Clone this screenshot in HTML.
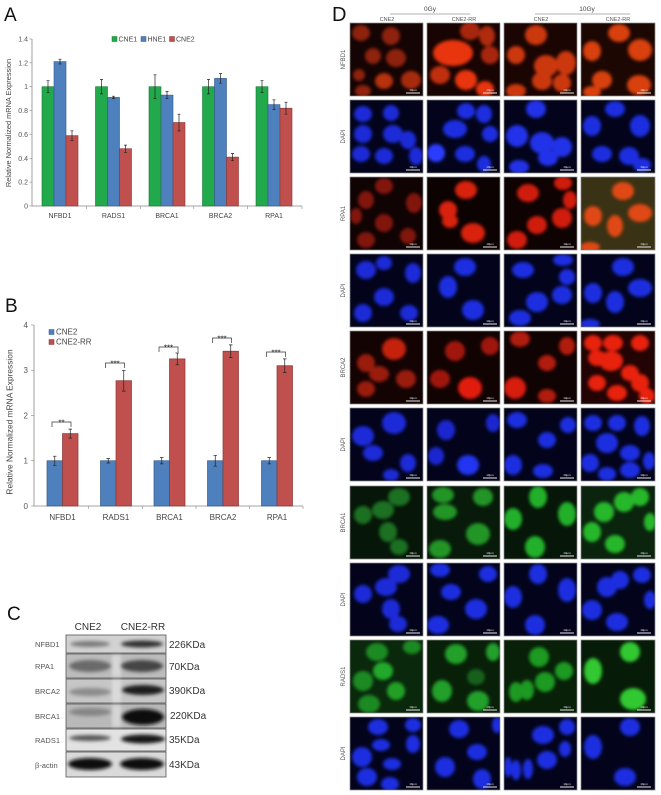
<!DOCTYPE html>
<html><head><meta charset="utf-8"><style>
html,body{margin:0;padding:0;background:#fff;}
svg{display:block;}
text{font-family:"Liberation Sans",sans-serif;}
</style></head><body>
<svg width="661" height="795" viewBox="0 0 661 795" xmlns="http://www.w3.org/2000/svg">
<defs>
<filter id="bl" x="-30%" y="-30%" width="160%" height="160%"><feGaussianBlur stdDeviation="1.6"/></filter>
<filter id="bb" x="-30%" y="-100%" width="160%" height="300%"><feGaussianBlur stdDeviation="1.8"/></filter>
</defs>
<rect width="661" height="795" fill="#fff"/>

<!-- ================= Panel A ================= -->
<text x="4" y="21" font-size="19" fill="#111">A</text>
<g font-size="7" fill="#555" text-anchor="end">
<text x="28" y="208.5">0</text><text x="28" y="184.6">0.2</text><text x="28" y="160.8">0.4</text><text x="28" y="136.9">0.6</text><text x="28" y="113.1">0.8</text><text x="28" y="89.2">1</text><text x="28" y="65.3">1.2</text><text x="28" y="41.5">1.4</text>
</g>
<text transform="translate(11,123) rotate(-90)" font-size="7.4" fill="#444" text-anchor="middle">Relative Normalized mRNA Expression</text>
<line x1="32" y1="39" x2="32" y2="206" stroke="#888" stroke-width="0.8"/>
<line x1="32" y1="206" x2="302" y2="206" stroke="#888" stroke-width="0.8"/>
<g stroke="#888" stroke-width="0.6"><line x1="29.5" y1="206" x2="32" y2="206"/><line x1="29.5" y1="182.1" x2="32" y2="182.1"/><line x1="29.5" y1="158.3" x2="32" y2="158.3"/><line x1="29.5" y1="134.4" x2="32" y2="134.4"/><line x1="29.5" y1="110.6" x2="32" y2="110.6"/><line x1="29.5" y1="86.7" x2="32" y2="86.7"/><line x1="29.5" y1="62.8" x2="32" y2="62.8"/><line x1="29.5" y1="39" x2="32" y2="39"/>
<line x1="86.7" y1="206" x2="86.7" y2="209"/><line x1="140.3" y1="206" x2="140.3" y2="209"/><line x1="193.8" y1="206" x2="193.8" y2="209"/><line x1="247.3" y1="206" x2="247.3" y2="209"/><line x1="302" y1="206" x2="302" y2="209"/></g>
<g stroke-width="0.6">
<g fill="#22a94b" stroke="#167a35">
<rect x="42" y="86.7" width="12" height="119.3"/><rect x="95.5" y="86.7" width="12" height="119.3"/><rect x="149" y="86.7" width="12" height="119.3"/><rect x="202.5" y="86.7" width="12" height="119.3"/><rect x="256" y="86.7" width="12" height="119.3"/></g>
<g fill="#4f80be" stroke="#35598a">
<rect x="54" y="61.6" width="12" height="144.4"/><rect x="107.5" y="97.4" width="12" height="108.6"/><rect x="161" y="95.1" width="12" height="110.9"/><rect x="214.5" y="78.4" width="12" height="127.6"/><rect x="268" y="104.6" width="12" height="101.4"/></g>
<g fill="#c0504d" stroke="#8c3533">
<rect x="66" y="135.6" width="12" height="70.4"/><rect x="119.5" y="148.7" width="12" height="57.3"/><rect x="173" y="122.5" width="12" height="83.5"/><rect x="226.5" y="157.1" width="12" height="48.9"/><rect x="280" y="108.2" width="12" height="97.8"/></g>
</g>
<g stroke="#222" stroke-width="0.7">
<path d="M48 80.7V92.7M46.5 80.7H49.5M46.5 92.7H49.5"/><path d="M60 59.2V64M58.5 59.2H61.5M58.5 64H61.5"/><path d="M72 130.8V140.4M70.5 130.8H73.5M70.5 140.4H73.5"/>
<path d="M101.5 79.5V93.9M100 79.5H103M100 93.9H103"/><path d="M113.5 96.2V98.6M112 96.2H115M112 98.6H115"/><path d="M125.5 145.1V152.3M124 145.1H127M124 152.3H127"/>
<path d="M155 74.8V98.6M153.5 74.8H156.5M153.5 98.6H156.5"/><path d="M167 91.5V98.7M165.5 91.5H168.5M165.5 98.7H168.5"/><path d="M179 114.2V130.9M177.5 114.2H180.5M177.5 130.9H180.5"/>
<path d="M208.5 79.5V93.9M207 79.5H210M207 93.9H210"/><path d="M220.5 73.6V83.2M219 73.6H222M219 83.2H222"/><path d="M232.5 153.5V160.7M231 153.5H234M231 160.7H234"/>
<path d="M262 80.7V92.7M260.5 80.7H263.5M260.5 92.7H263.5"/><path d="M274 99.8V109.4M272.5 99.8H275.5M272.5 109.4H275.5"/><path d="M286 102.2V114.2M284.5 102.2H287.5M284.5 114.2H287.5"/>
</g>
<g font-size="7" fill="#444" text-anchor="middle">
<text x="60" y="218">NFBD1</text><text x="113.5" y="218">RADS1</text><text x="167" y="218">BRCA1</text><text x="220.5" y="218">BRCA2</text><text x="274" y="218">RPA1</text></g>
<rect x="112" y="36.5" width="5" height="5" fill="#22a94b" stroke="#167a35" stroke-width="0.5"/><text x="118.5" y="41.5" font-size="7" fill="#444">CNE1</text>
<rect x="141" y="36.5" width="5" height="5" fill="#4f80be" stroke="#35598a" stroke-width="0.5"/><text x="147.5" y="41.5" font-size="7" fill="#444">HNE1</text>
<rect x="169.5" y="36.5" width="5" height="5" fill="#c0504d" stroke="#8c3533" stroke-width="0.5"/><text x="176" y="41.5" font-size="7" fill="#444">CNE2</text>

<!-- ================= Panel B ================= -->
<text x="5" y="312" font-size="19" fill="#111">B</text>
<g font-size="8" fill="#555" text-anchor="end">
<text x="28" y="509">0</text><text x="28" y="463.7">1</text><text x="28" y="418.5">2</text><text x="28" y="373.2">3</text><text x="28" y="328">4</text></g>
<text transform="translate(12.5,422) rotate(-90)" font-size="8.4" fill="#444" text-anchor="middle">Relative Normalized mRNA Expression</text>
<line x1="34" y1="325" x2="34" y2="506" stroke="#888" stroke-width="0.8"/>
<line x1="34" y1="506" x2="303" y2="506" stroke="#888" stroke-width="0.8"/>
<g stroke="#888" stroke-width="0.6"><line x1="31" y1="506" x2="34" y2="506"/><line x1="31" y1="460.75" x2="34" y2="460.75"/><line x1="31" y1="415.5" x2="34" y2="415.5"/><line x1="31" y1="370.25" x2="34" y2="370.25"/><line x1="31" y1="325" x2="34" y2="325"/>
<line x1="88.5" y1="506" x2="88.5" y2="509"/><line x1="142.5" y1="506" x2="142.5" y2="509"/><line x1="196" y1="506" x2="196" y2="509"/><line x1="249.5" y1="506" x2="249.5" y2="509"/><line x1="303" y1="506" x2="303" y2="509"/></g>
<g stroke-width="0.7">
<g fill="#4f80be" stroke="#35598a">
<rect x="47" y="460.75" width="15.5" height="45.25"/><rect x="100.5" y="460.75" width="15.5" height="45.25"/><rect x="154" y="460.75" width="15.5" height="45.25"/><rect x="207.5" y="460.75" width="15.5" height="45.25"/><rect x="261.5" y="460.75" width="15.5" height="45.25"/></g>
<g fill="#c0504d" stroke="#8c3533">
<rect x="62.5" y="433.6" width="15.5" height="72.4"/><rect x="116" y="380.7" width="15.5" height="125.3"/><rect x="169.5" y="358.9" width="15.5" height="147.1"/><rect x="223" y="351.2" width="15.5" height="154.8"/><rect x="277" y="365.7" width="15.5" height="140.3"/></g>
</g>
<g stroke="#222" stroke-width="0.7">
<path d="M54.75 456.2V465.3M53 456.2H56.5M53 465.3H56.5"/><path d="M108.25 458.5V463M106.5 458.5H110M106.5 463H110"/><path d="M161.75 457.6V463.9M160 457.6H163.5M160 463.9H163.5"/><path d="M215.25 455.3V466.2M213.5 455.3H217M213.5 466.2H217"/><path d="M269.25 457.6V463.9M267.5 457.6H271M267.5 463.9H271"/>
<path d="M70.25 429.1V438.1M68.5 429.1H72M68.5 438.1H72"/><path d="M123.75 370.3V391.1M122 370.3H125.5M122 391.1H125.5"/><path d="M177.25 353V364.8M175.5 353H179M175.5 364.8H179"/><path d="M230.75 344.9V357.5M229 344.9H232.5M229 357.5H232.5"/><path d="M284.75 358.9V372.5M283 358.9H286.5M283 372.5H286.5"/>
</g>
<g stroke="#333" stroke-width="0.7" fill="none">
<path d="M52 427V422H71V427"/><path d="M105.5 368V363H124.5V368"/><path d="M159 352V347H178V352"/><path d="M212.5 343V338H231.5V343"/><path d="M266.5 357V352H285.5V357"/></g>
<g font-size="8" fill="#222" text-anchor="middle">
<text x="61.5" y="425.5">**</text><text x="115" y="366.5">***</text><text x="168.5" y="350.5">***</text><text x="222" y="341.5">***</text><text x="276" y="355.5">***</text></g>
<g font-size="8" fill="#444" text-anchor="middle">
<text x="62.5" y="520">NFBD1</text><text x="116" y="520">RADS1</text><text x="169.5" y="520">BRCA1</text><text x="223" y="520">BRCA2</text><text x="277" y="520">RPA1</text></g>
<rect x="49" y="329.5" width="5" height="5" fill="#4f80be" stroke="#35598a" stroke-width="0.5"/><text x="56" y="334.5" font-size="8" fill="#444">CNE2</text>
<rect x="49" y="339.5" width="5" height="5" fill="#c0504d" stroke="#8c3533" stroke-width="0.5"/><text x="56" y="344.5" font-size="8" fill="#444">CNE2-RR</text>

<!-- ================= Panel C ================= -->
<text x="7" y="620" font-size="19" fill="#111">C</text>
<text x="88" y="630" font-size="10" fill="#333" text-anchor="middle">CNE2</text>
<text x="143" y="630" font-size="10" fill="#333" text-anchor="middle">CNE2-RR</text>
<g stroke="#555" stroke-width="0.8">
<rect x="66" y="635" width="100" height="18" fill="#d2d2d2"/>
<rect x="66" y="654" width="100" height="24" fill="#bcbcbc"/>
<rect x="66" y="679" width="100" height="24" fill="#c6c6c6"/>
<rect x="66" y="704" width="100" height="24" fill="#b9b9b9"/>
<rect x="66" y="729" width="100" height="22" fill="#e2e2e2"/>
<rect x="66" y="752" width="100" height="25" fill="#dadada"/>
</g>
<g fill="#e8e8e8" opacity="0.6" filter="url(#bl)">
<rect x="112" y="655" width="9" height="22"/><rect x="112" y="680" width="9" height="22"/><rect x="112" y="705" width="9" height="22"/></g>
<g filter="url(#bb)">
<ellipse cx="90" cy="644" rx="20" ry="3" fill="#7a7a7a"/><ellipse cx="142" cy="644" rx="21" ry="3.5" fill="#303030"/>
<ellipse cx="90" cy="666" rx="21" ry="6" fill="#6a6a6a"/><ellipse cx="142" cy="666" rx="21" ry="6" fill="#454545"/>
<ellipse cx="90" cy="692" rx="21" ry="4" fill="#8c8c8c"/><ellipse cx="143" cy="690" rx="21" ry="5" fill="#1a1a1a"/>
<ellipse cx="90" cy="712" rx="21" ry="4" fill="#858585"/><ellipse cx="143" cy="717" rx="21" ry="8" fill="#111"/>
<ellipse cx="90" cy="738" rx="21" ry="3" fill="#555"/><ellipse cx="143" cy="739" rx="22" ry="4.5" fill="#151515"/>
<ellipse cx="90" cy="764" rx="22" ry="6" fill="#0a0a0a"/><ellipse cx="142" cy="764" rx="22" ry="6" fill="#0a0a0a"/>
</g>
<g font-size="7.5" fill="#555">
<text x="35" y="647">NFBD1</text><text x="35" y="669">RPA1</text><text x="35" y="694">BRCA2</text><text x="35" y="719">BRCA1</text><text x="35" y="743">RADS1</text><text x="35" y="768">β-actin</text></g>
<g font-size="10" fill="#333">
<text x="169" y="648">226KDa</text><text x="169" y="670">70KDa</text><text x="169" y="694">390KDa</text><text x="170" y="719">220KDa</text><text x="169" y="743">35KDa</text><text x="169" y="768">43KDa</text></g>

<!-- ================= Panel D ================= -->
<text x="332" y="21" font-size="20" fill="#111">D</text>
<text x="430" y="11" font-size="6.5" fill="#444" text-anchor="middle">0Gy</text>
<line x1="390" y1="14" x2="470" y2="14" stroke="#999" stroke-width="0.7"/>
<text x="587" y="11" font-size="6.5" fill="#444" text-anchor="middle">10Gy</text>
<line x1="535" y1="14" x2="630" y2="14" stroke="#999" stroke-width="0.7"/>
<g font-size="5.5" fill="#555" text-anchor="middle">
<text x="387" y="21">CNE2</text><text x="464" y="21">CNE2-RR</text><text x="541" y="21">CNE2</text><text x="618" y="21">CNE2-RR</text></g>
<g font-size="6" fill="#555" text-anchor="middle">
<text transform="translate(345,59.5) rotate(-90)">NFBD1</text>
<text transform="translate(345,136.5) rotate(-90)">DAPI</text>
<text transform="translate(345,213.5) rotate(-90)">RPA1</text>
<text transform="translate(345,290.5) rotate(-90)">DAPI</text>
<text transform="translate(345,367.5) rotate(-90)">BRCA2</text>
<text transform="translate(345,444.5) rotate(-90)">DAPI</text>
<text transform="translate(345,522.5) rotate(-90)">BRCA1</text>
<text transform="translate(345,599.5) rotate(-90)">DAPI</text>
<text transform="translate(345,676.5) rotate(-90)">RADS1</text>
<text transform="translate(345,753.5) rotate(-90)">DAPI</text>
</g>

<!-- Row 1 NFBD1 -->
<svg x="350" y="23" width="73" height="73"><rect width="73" height="73" fill="#140404"/><g filter="url(#bl)" fill="#8e2410"><ellipse cx="11" cy="10" rx="9" ry="8"/><ellipse cx="41" cy="13" rx="9" ry="9"/><ellipse cx="23" cy="33" rx="8" ry="8"/><ellipse cx="46" cy="35" rx="10" ry="9"/><ellipse cx="9" cy="52" rx="6" ry="6"/><ellipse cx="34" cy="58" rx="9" ry="8" fill="#b8300f"/><ellipse cx="61" cy="57" rx="10" ry="9" fill="#a82c10"/><ellipse cx="13" cy="68" rx="8" ry="6"/></g></svg>
<svg x="427" y="23" width="73" height="73"><rect width="73" height="73" fill="#180403"/><g filter="url(#bl)" fill="#e8340c"><ellipse cx="26" cy="30" rx="20" ry="13"/><ellipse cx="43" cy="8" rx="10" ry="9" fill="#a82808"/><ellipse cx="60" cy="13" rx="8" ry="10" fill="#b02a08"/><ellipse cx="63" cy="32" rx="9" ry="9" fill="#a82808"/><ellipse cx="13" cy="52" rx="10" ry="9" fill="#c02e0a"/><ellipse cx="39" cy="57" rx="11" ry="10"/><ellipse cx="58" cy="66" rx="9" ry="8"/></g></svg>
<svg x="504" y="23" width="73" height="73"><rect width="73" height="73" fill="#1a0503"/><g filter="url(#bl)" fill="#cc380e"><ellipse cx="32" cy="12" rx="11" ry="10"/><ellipse cx="12" cy="32" rx="9" ry="9"/><ellipse cx="42" cy="43" rx="12" ry="11"/><ellipse cx="62" cy="40" rx="10" ry="12"/><ellipse cx="38" cy="58" rx="10" ry="9"/><ellipse cx="58" cy="60" rx="9" ry="9"/><ellipse cx="12" cy="68" rx="10" ry="7"/></g></svg>
<svg x="581" y="23" width="74" height="73"><rect width="74" height="73" fill="#1c0703"/><g filter="url(#bl)" fill="#d8400e"><ellipse cx="38" cy="10" rx="11" ry="9"/><ellipse cx="11" cy="28" rx="9" ry="10"/><ellipse cx="59" cy="27" rx="12" ry="11"/><ellipse cx="21" cy="57" rx="10" ry="9"/><ellipse cx="58" cy="62" rx="12" ry="10"/><ellipse cx="11" cy="69" rx="9" ry="6"/></g></svg>

<!-- Row 2 DAPI -->
<svg x="350" y="100" width="73" height="73"><rect width="73" height="73" fill="#03041c"/><g filter="url(#bl)" fill="#1c2ad8"><ellipse cx="13" cy="14" rx="9" ry="8"/><ellipse cx="41" cy="13" rx="8" ry="8"/><ellipse cx="13" cy="34" rx="9" ry="9"/><ellipse cx="43" cy="34" rx="10" ry="9"/><ellipse cx="58" cy="40" rx="8" ry="9"/><ellipse cx="11" cy="54" rx="9" ry="8"/><ellipse cx="34" cy="56" rx="9" ry="8"/><ellipse cx="66" cy="56" rx="7" ry="9"/></g></svg>
<svg x="427" y="100" width="73" height="73"><rect width="73" height="73" fill="#03041c"/><g filter="url(#bl)" fill="#1e2ee0"><ellipse cx="39" cy="11" rx="9" ry="8"/><ellipse cx="57" cy="14" rx="8" ry="9"/><ellipse cx="28" cy="29" rx="12" ry="9"/><ellipse cx="63" cy="34" rx="8" ry="8"/><ellipse cx="9" cy="53" rx="9" ry="9" fill="#2a3cff"/><ellipse cx="38" cy="54" rx="10" ry="8"/><ellipse cx="57" cy="64" rx="7" ry="8"/></g></svg>
<svg x="504" y="100" width="73" height="73"><rect width="73" height="73" fill="#03041c"/><g filter="url(#bl)" fill="#2030e8"><ellipse cx="32" cy="9" rx="10" ry="9"/><ellipse cx="13" cy="36" rx="11" ry="11"/><ellipse cx="38" cy="43" rx="12" ry="11"/><ellipse cx="58" cy="47" rx="10" ry="10"/><ellipse cx="44" cy="58" rx="10" ry="8"/><ellipse cx="15" cy="67" rx="10" ry="7"/></g></svg>
<svg x="581" y="100" width="74" height="73"><rect width="74" height="73" fill="#03041c"/><g filter="url(#bl)" fill="#1e2ee0"><ellipse cx="34" cy="9" rx="10" ry="8"/><ellipse cx="11" cy="26" rx="9" ry="10"/><ellipse cx="59" cy="26" rx="10" ry="11"/><ellipse cx="21" cy="54" rx="10" ry="8"/><ellipse cx="48" cy="56" rx="10" ry="9"/><ellipse cx="61" cy="65" rx="9" ry="7"/></g></svg>

<!-- Row 3 RPA1 -->
<svg x="350" y="177" width="73" height="73"><rect width="73" height="73" fill="#100303"/><g filter="url(#bl)" fill="#821610"><ellipse cx="34" cy="9" rx="9" ry="8"/><ellipse cx="16" cy="23" rx="8" ry="9"/><ellipse cx="64" cy="26" rx="8" ry="10"/><ellipse cx="6" cy="39" rx="6" ry="8"/><ellipse cx="34" cy="46" rx="9" ry="9"/><ellipse cx="16" cy="63" rx="9" ry="8"/><ellipse cx="58" cy="59" rx="8" ry="8"/></g></svg>
<svg x="427" y="177" width="73" height="73"><rect width="73" height="73" fill="#0c0202"/><g filter="url(#bl)" fill="#d8200e"><ellipse cx="39" cy="13" rx="11" ry="9"/><ellipse cx="21" cy="33" rx="9" ry="9"/><ellipse cx="23" cy="44" rx="8" ry="7"/><ellipse cx="46" cy="56" rx="12" ry="10"/></g></svg>
<svg x="504" y="177" width="73" height="73"><rect width="73" height="73" fill="#0e0202"/><g filter="url(#bl)" fill="#d01e0e"><ellipse cx="24" cy="16" rx="11" ry="9"/><ellipse cx="59" cy="6" rx="9" ry="7"/><ellipse cx="66" cy="23" rx="7" ry="9"/><ellipse cx="33" cy="48" rx="10" ry="9"/><ellipse cx="58" cy="41" rx="10" ry="10"/><ellipse cx="13" cy="63" rx="10" ry="9"/></g></svg>
<svg x="581" y="177" width="74" height="73"><rect width="74" height="73" fill="#3a3214"/><g filter="url(#bl)" fill="#e04a18"><ellipse cx="42" cy="14" rx="11" ry="9"/><ellipse cx="12" cy="39" rx="9" ry="10"/><ellipse cx="59" cy="36" rx="12" ry="9"/><ellipse cx="34" cy="49" rx="8" ry="11"/><ellipse cx="9" cy="70" rx="10" ry="5"/></g></svg>

<!-- Row 4 DAPI -->
<svg x="350" y="254" width="73" height="73"><rect width="73" height="73" fill="#03041c"/><g filter="url(#bl)" fill="#1c2ad8"><ellipse cx="16" cy="16" rx="10" ry="9"/><ellipse cx="34" cy="9" rx="8" ry="7"/><ellipse cx="63" cy="19" rx="8" ry="10"/><ellipse cx="34" cy="43" rx="10" ry="9"/><ellipse cx="13" cy="59" rx="9" ry="9"/><ellipse cx="59" cy="59" rx="9" ry="8"/></g></svg>
<svg x="427" y="254" width="73" height="73"><rect width="73" height="73" fill="#03041c"/><g filter="url(#bl)" fill="#1e2ee0"><ellipse cx="38" cy="13" rx="11" ry="9"/><ellipse cx="21" cy="33" rx="9" ry="11"/><ellipse cx="46" cy="56" rx="11" ry="10"/></g></svg>
<svg x="504" y="254" width="73" height="73"><rect width="73" height="73" fill="#03041c"/><g filter="url(#bl)" fill="#1e2ee0"><ellipse cx="19" cy="16" rx="11" ry="8"/><ellipse cx="59" cy="6" rx="10" ry="6"/><ellipse cx="63" cy="23" rx="8" ry="8"/><ellipse cx="58" cy="41" rx="10" ry="9"/><ellipse cx="33" cy="48" rx="11" ry="10"/><ellipse cx="16" cy="64" rx="11" ry="8"/></g></svg>
<svg x="581" y="254" width="74" height="73"><rect width="74" height="73" fill="#03041c"/><g filter="url(#bl)" fill="#1e2ee0"><ellipse cx="42" cy="13" rx="11" ry="9"/><ellipse cx="12" cy="39" rx="9" ry="10"/><ellipse cx="59" cy="34" rx="12" ry="9"/><ellipse cx="34" cy="48" rx="9" ry="11"/><ellipse cx="9" cy="70" rx="10" ry="5"/></g></svg>

<!-- Row 5 BRCA2 -->
<svg x="350" y="331" width="73" height="73"><rect width="73" height="73" fill="#140303"/><g filter="url(#bl)" fill="#9a1a10"><ellipse cx="44" cy="18" rx="12" ry="11" fill="#c42010"/><ellipse cx="16" cy="32" rx="9" ry="9"/><ellipse cx="29" cy="43" rx="10" ry="8"/><ellipse cx="56" cy="48" rx="10" ry="9"/><ellipse cx="16" cy="58" rx="9" ry="8"/></g></svg>
<svg x="427" y="331" width="73" height="73"><rect width="73" height="73" fill="#120303"/><g filter="url(#bl)" fill="#a01810"><ellipse cx="28" cy="20" rx="10" ry="10"/><ellipse cx="63" cy="15" rx="9" ry="9"/><ellipse cx="13" cy="48" rx="10" ry="9"/><ellipse cx="43" cy="57" rx="12" ry="11" fill="#e21c10"/></g></svg>
<svg x="504" y="331" width="73" height="73"><rect width="73" height="73" fill="#100303"/><g filter="url(#bl)" fill="#b01a10"><ellipse cx="16" cy="8" rx="10" ry="8"/><ellipse cx="63" cy="15" rx="8" ry="9"/><ellipse cx="43" cy="32" rx="9" ry="8"/><ellipse cx="11" cy="57" rx="11" ry="11" fill="#d81e10"/><ellipse cx="43" cy="65" rx="9" ry="7"/></g></svg>
<svg x="581" y="331" width="74" height="73"><rect width="74" height="73" fill="#220404"/><g filter="url(#bl)" fill="#e82010"><ellipse cx="12" cy="12" rx="9" ry="8"/><ellipse cx="32" cy="12" rx="10" ry="8"/><ellipse cx="59" cy="12" rx="9" ry="8"/><ellipse cx="16" cy="27" rx="9" ry="8"/><ellipse cx="30" cy="30" rx="12" ry="10"/><ellipse cx="49" cy="42" rx="9" ry="8"/><ellipse cx="16" cy="52" rx="9" ry="8"/><ellipse cx="59" cy="52" rx="9" ry="9"/><ellipse cx="36" cy="62" rx="10" ry="8"/><ellipse cx="66" cy="65" rx="8" ry="8"/></g></svg>

<!-- Row 6 DAPI -->
<svg x="350" y="408" width="73" height="73"><rect width="73" height="73" fill="#03041c"/><g filter="url(#bl)" fill="#1c2ad8"><ellipse cx="44" cy="15" rx="12" ry="11"/><ellipse cx="13" cy="28" rx="11" ry="10"/><ellipse cx="23" cy="45" rx="10" ry="8"/><ellipse cx="58" cy="55" rx="8" ry="9"/><ellipse cx="41" cy="67" rx="8" ry="6"/></g></svg>
<svg x="427" y="408" width="73" height="73"><rect width="73" height="73" fill="#03041c"/><g filter="url(#bl)" fill="#1a28d0"><ellipse cx="19" cy="22" rx="9" ry="10"/><ellipse cx="66" cy="15" rx="7" ry="9"/><ellipse cx="9" cy="48" rx="8" ry="9"/><ellipse cx="41" cy="57" rx="11" ry="10" fill="#2234f0"/></g></svg>
<svg x="504" y="408" width="73" height="73"><rect width="73" height="73" fill="#03041c"/><g filter="url(#bl)" fill="#1e2ee0"><ellipse cx="13" cy="12" rx="10" ry="8"/><ellipse cx="64" cy="17" rx="8" ry="8"/><ellipse cx="43" cy="32" rx="9" ry="8"/><ellipse cx="9" cy="57" rx="9" ry="10"/><ellipse cx="39" cy="63" rx="10" ry="7"/></g></svg>
<svg x="581" y="408" width="74" height="73"><rect width="74" height="73" fill="#03041c"/><g filter="url(#bl)" fill="#1e2ee0"><ellipse cx="12" cy="15" rx="9" ry="8"/><ellipse cx="36" cy="15" rx="9" ry="8"/><ellipse cx="61" cy="18" rx="8" ry="10"/><ellipse cx="26" cy="35" rx="11" ry="10"/><ellipse cx="49" cy="45" rx="10" ry="8"/><ellipse cx="9" cy="55" rx="9" ry="9"/><ellipse cx="68" cy="53" rx="6" ry="9"/><ellipse cx="26" cy="66" rx="9" ry="7"/><ellipse cx="49" cy="62" rx="10" ry="8"/></g></svg>

<!-- Row 7 BRCA1 -->
<svg x="350" y="486" width="73" height="73"><rect width="73" height="73" fill="#061608"/><g filter="url(#bl)" fill="#1a7020"><ellipse cx="49" cy="11" rx="11" ry="9"/><ellipse cx="33" cy="24" rx="11" ry="9"/><ellipse cx="13" cy="29" rx="9" ry="9"/><ellipse cx="38" cy="46" rx="9" ry="10"/><ellipse cx="49" cy="61" rx="9" ry="8"/></g></svg>
<svg x="427" y="486" width="73" height="73"><rect width="73" height="73" fill="#081a0a"/><g filter="url(#bl)" fill="#209528"><ellipse cx="16" cy="9" rx="11" ry="8"/><ellipse cx="56" cy="11" rx="10" ry="9"/><ellipse cx="18" cy="26" rx="12" ry="8"/><ellipse cx="51" cy="48" rx="12" ry="11"/><ellipse cx="13" cy="63" rx="11" ry="9"/></g></svg>
<svg x="504" y="486" width="73" height="73"><rect width="73" height="73" fill="#061608"/><g filter="url(#bl)" fill="#24b02a"><ellipse cx="34" cy="11" rx="9" ry="11"/><ellipse cx="9" cy="33" rx="9" ry="11"/><ellipse cx="63" cy="28" rx="9" ry="12"/><ellipse cx="31" cy="61" rx="10" ry="11"/></g></svg>
<svg x="581" y="486" width="74" height="73"><rect width="74" height="73" fill="#0a240e"/><g filter="url(#bl)" fill="#28b82c"><ellipse cx="23" cy="26" rx="10" ry="10"/><ellipse cx="43" cy="16" rx="10" ry="10"/><ellipse cx="59" cy="11" rx="9" ry="9"/><ellipse cx="11" cy="46" rx="9" ry="10"/><ellipse cx="34" cy="58" rx="10" ry="9"/><ellipse cx="69" cy="36" rx="6" ry="9"/></g></svg>

<!-- Row 8 DAPI -->
<svg x="350" y="563" width="73" height="73"><rect width="73" height="73" fill="#03041c"/><g filter="url(#bl)" fill="#1c2ad8"><ellipse cx="49" cy="11" rx="11" ry="9"/><ellipse cx="36" cy="24" rx="11" ry="9"/><ellipse cx="13" cy="31" rx="9" ry="9"/><ellipse cx="41" cy="46" rx="9" ry="10"/><ellipse cx="48" cy="61" rx="9" ry="8"/></g></svg>
<svg x="427" y="563" width="73" height="73"><rect width="73" height="73" fill="#03041c"/><g filter="url(#bl)" fill="#1e2ee0"><ellipse cx="13" cy="7" rx="10" ry="7"/><ellipse cx="61" cy="11" rx="9" ry="8"/><ellipse cx="24" cy="29" rx="10" ry="8"/><ellipse cx="49" cy="46" rx="11" ry="10"/><ellipse cx="11" cy="62" rx="11" ry="9"/></g></svg>
<svg x="504" y="563" width="73" height="73"><rect width="73" height="73" fill="#03041c"/><g filter="url(#bl)" fill="#1e2ee0"><ellipse cx="34" cy="11" rx="9" ry="10"/><ellipse cx="9" cy="34" rx="9" ry="11"/><ellipse cx="63" cy="27" rx="9" ry="12"/><ellipse cx="31" cy="62" rx="10" ry="10"/></g></svg>
<svg x="581" y="563" width="74" height="73"><rect width="74" height="73" fill="#03041c"/><g filter="url(#bl)" fill="#1e2ee0"><ellipse cx="26" cy="24" rx="10" ry="10"/><ellipse cx="39" cy="17" rx="9" ry="9"/><ellipse cx="61" cy="12" rx="9" ry="8"/><ellipse cx="11" cy="47" rx="10" ry="10"/><ellipse cx="36" cy="59" rx="11" ry="9"/><ellipse cx="69" cy="37" rx="6" ry="9"/></g></svg>

<!-- Row 9 RADS1 -->
<svg x="350" y="640" width="73" height="73"><rect width="73" height="73" fill="#0a280c"/><g filter="url(#bl)" fill="#1c8a22"><ellipse cx="27" cy="12" rx="11" ry="9"/><ellipse cx="62" cy="7" rx="9" ry="7"/><ellipse cx="33" cy="31" rx="10" ry="9" fill="#24a82a"/><ellipse cx="13" cy="41" rx="10" ry="10"/><ellipse cx="46" cy="51" rx="9" ry="9" fill="#22a028"/><ellipse cx="19" cy="64" rx="11" ry="9"/></g></svg>
<svg x="427" y="640" width="73" height="73"><rect width="73" height="73" fill="#082008"/><g filter="url(#bl)" fill="#22a02a"><ellipse cx="29" cy="14" rx="11" ry="10"/><ellipse cx="66" cy="12" rx="7" ry="9"/><ellipse cx="15" cy="51" rx="10" ry="11"/><ellipse cx="51" cy="61" rx="11" ry="10"/><ellipse cx="49" cy="37" rx="9" ry="8" fill="#14601a"/></g></svg>
<svg x="504" y="640" width="73" height="73"><rect width="73" height="73" fill="#082008"/><g filter="url(#bl)" fill="#1e9a24"><ellipse cx="35" cy="17" rx="10" ry="10"/><ellipse cx="60" cy="31" rx="9" ry="9"/><ellipse cx="41" cy="42" rx="10" ry="10"/><ellipse cx="12" cy="52" rx="7" ry="10"/><ellipse cx="23" cy="50" rx="7" ry="10"/></g></svg>
<svg x="581" y="640" width="74" height="73"><rect width="74" height="73" fill="#071c08"/><g filter="url(#bl)" fill="#30c830"><ellipse cx="49" cy="12" rx="10" ry="10"/><ellipse cx="12" cy="31" rx="9" ry="13"/><ellipse cx="52" cy="59" rx="13" ry="11"/></g></svg>

<!-- Row 10 DAPI -->
<svg x="350" y="717" width="73" height="73"><rect width="73" height="73" fill="#03041c"/><g filter="url(#bl)" fill="#1e2ee0"><ellipse cx="28" cy="10" rx="10" ry="8"/><ellipse cx="63" cy="8" rx="8" ry="7"/><ellipse cx="31" cy="28" rx="9" ry="6"/><ellipse cx="12" cy="40" rx="10" ry="10"/><ellipse cx="42" cy="47" rx="9" ry="6"/><ellipse cx="63" cy="27" rx="7" ry="9"/><ellipse cx="17" cy="60" rx="10" ry="9"/><ellipse cx="40" cy="67" rx="9" ry="7"/></g></svg>
<svg x="427" y="717" width="73" height="73"><rect width="73" height="73" fill="#03041c"/><g filter="url(#bl)" fill="#1e2ee0"><ellipse cx="32" cy="12" rx="10" ry="9"/><ellipse cx="70" cy="8" rx="5" ry="8"/><ellipse cx="50" cy="35" rx="10" ry="8"/><ellipse cx="18" cy="50" rx="10" ry="10"/><ellipse cx="55" cy="62" rx="9" ry="10"/></g></svg>
<svg x="504" y="717" width="73" height="73"><rect width="73" height="73" fill="#03041c"/><g filter="url(#bl)" fill="#1e2ee0"><ellipse cx="39" cy="18" rx="11" ry="9"/><ellipse cx="63" cy="10" rx="8" ry="8"/><ellipse cx="61" cy="32" rx="6" ry="8"/><ellipse cx="43" cy="43" rx="10" ry="9"/><ellipse cx="4" cy="50" rx="4" ry="10"/><ellipse cx="12" cy="53" rx="5" ry="10"/><ellipse cx="24" cy="52" rx="5" ry="10"/></g></svg>
<svg x="581" y="717" width="74" height="73"><rect width="74" height="73" fill="#03041c"/><g filter="url(#bl)" fill="#1e2ee0"><ellipse cx="49" cy="10" rx="10" ry="9"/><ellipse cx="12" cy="30" rx="9" ry="12"/><ellipse cx="44" cy="60" rx="11" ry="9"/></g></svg>

<!-- tile borders & scale bars -->
<g fill="none" stroke="#8a8a8a" stroke-width="0.7">
<rect x="350" y="23" width="73" height="73"/><rect x="427" y="23" width="73" height="73"/><rect x="504" y="23" width="73" height="73"/><rect x="581" y="23" width="74" height="73"/>
<rect x="350" y="100" width="73" height="73"/><rect x="427" y="100" width="73" height="73"/><rect x="504" y="100" width="73" height="73"/><rect x="581" y="100" width="74" height="73"/>
<rect x="350" y="177" width="73" height="73"/><rect x="427" y="177" width="73" height="73"/><rect x="504" y="177" width="73" height="73"/><rect x="581" y="177" width="74" height="73"/>
<rect x="350" y="254" width="73" height="73"/><rect x="427" y="254" width="73" height="73"/><rect x="504" y="254" width="73" height="73"/><rect x="581" y="254" width="74" height="73"/>
<rect x="350" y="331" width="73" height="73"/><rect x="427" y="331" width="73" height="73"/><rect x="504" y="331" width="73" height="73"/><rect x="581" y="331" width="74" height="73"/>
<rect x="350" y="408" width="73" height="73"/><rect x="427" y="408" width="73" height="73"/><rect x="504" y="408" width="73" height="73"/><rect x="581" y="408" width="74" height="73"/>
<rect x="350" y="486" width="73" height="73"/><rect x="427" y="486" width="73" height="73"/><rect x="504" y="486" width="73" height="73"/><rect x="581" y="486" width="74" height="73"/>
<rect x="350" y="563" width="73" height="73"/><rect x="427" y="563" width="73" height="73"/><rect x="504" y="563" width="73" height="73"/><rect x="581" y="563" width="74" height="73"/>
<rect x="350" y="640" width="73" height="73"/><rect x="427" y="640" width="73" height="73"/><rect x="504" y="640" width="73" height="73"/><rect x="581" y="640" width="74" height="73"/>
<rect x="350" y="717" width="73" height="73"/><rect x="427" y="717" width="73" height="73"/><rect x="504" y="717" width="73" height="73"/><rect x="581" y="717" width="74" height="73"/>
</g>
<g stroke="#e8e8e8" stroke-width="0.9">
<path d="M406 93H420M483 93H497M560 93H574M637 93H651"/>
<path d="M406 170H420M483 170H497M560 170H574M637 170H651"/>
<path d="M406 247H420M483 247H497M560 247H574M637 247H651"/>
<path d="M406 324H420M483 324H497M560 324H574M637 324H651"/>
<path d="M406 401H420M483 401H497M560 401H574M637 401H651"/>
<path d="M406 478H420M483 478H497M560 478H574M637 478H651"/>
<path d="M406 556H420M483 556H497M560 556H574M637 556H651"/>
<path d="M406 633H420M483 633H497M560 633H574M637 633H651"/>
<path d="M406 710H420M483 710H497M560 710H574M637 710H651"/>
<path d="M406 787H420M483 787H497M560 787H574M637 787H651"/>
</g>
<g font-size="3" fill="#e8e8e8" text-anchor="middle">
<text x="413" y="91">10μm</text><text x="490" y="91">10μm</text><text x="567" y="91">10μm</text><text x="644" y="91">10μm</text>
<text x="413" y="168">10μm</text><text x="490" y="168">10μm</text><text x="567" y="168">10μm</text><text x="644" y="168">10μm</text>
<text x="413" y="245">10μm</text><text x="490" y="245">10μm</text><text x="567" y="245">10μm</text><text x="644" y="245">10μm</text>
<text x="413" y="322">10μm</text><text x="490" y="322">10μm</text><text x="567" y="322">10μm</text><text x="644" y="322">10μm</text>
<text x="413" y="399">10μm</text><text x="490" y="399">10μm</text><text x="567" y="399">10μm</text><text x="644" y="399">10μm</text>
<text x="413" y="476">10μm</text><text x="490" y="476">10μm</text><text x="567" y="476">10μm</text><text x="644" y="476">10μm</text>
<text x="413" y="554">10μm</text><text x="490" y="554">10μm</text><text x="567" y="554">10μm</text><text x="644" y="554">10μm</text>
<text x="413" y="631">10μm</text><text x="490" y="631">10μm</text><text x="567" y="631">10μm</text><text x="644" y="631">10μm</text>
<text x="413" y="708">10μm</text><text x="490" y="708">10μm</text><text x="567" y="708">10μm</text><text x="644" y="708">10μm</text>
<text x="413" y="785">10μm</text><text x="490" y="785">10μm</text><text x="567" y="785">10μm</text><text x="644" y="785">10μm</text>
</g>
</svg>
</body></html>
